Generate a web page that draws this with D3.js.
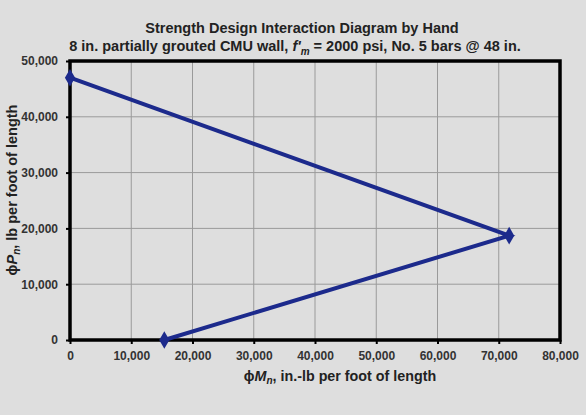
<!DOCTYPE html>
<html><head><meta charset="utf-8">
<script src="https://cdn.jsdelivr.net/npm/d3@7"></script>
<style>body{margin:0;background:#dedede;}svg{display:block;font-family:"Liberation Sans",Arial,sans-serif;}</style>
</head><body>
<svg id="c" width="586" height="415"></svg>
<script>
const momentValues = [0, 71700, 15400];
const axialValues = [47000, 18700, 0];
const xTicks = [0,10000,20000,30000,40000,50000,60000,70000,80000];
const yTicks = [0,10000,20000,30000,40000,50000];

const svg = d3.select("#c");
svg.append("rect").attr("width",586).attr("height",415).attr("fill","#dedede");
const L=70,R=560,T=61,B=340;
const x = d3.scaleLinear().domain([0,80000]).range([L,R]);
const y = d3.scaleLinear().domain([0,50000]).range([B,T]);
const fmt = d3.format(",");

const g = svg.append("g");
g.selectAll("line.gx").data(xTicks).join("line").attr("x1",d=>x(d)).attr("x2",d=>x(d)).attr("y1",T).attr("y2",B).attr("stroke","#9a9a9a").attr("stroke-width",1);
g.selectAll("line.gy").data(yTicks).join("line").attr("y1",d=>y(d)).attr("y2",d=>y(d)).attr("x1",L).attr("x2",R).attr("stroke","#9a9a9a").attr("stroke-width",1);

const xa = svg.append("g").attr("transform",`translate(0,${B})`).call(d3.axisBottom(x).tickValues(xTicks).tickFormat(fmt).tickSize(4).tickPadding(7));
const ya = svg.append("g").attr("transform",`translate(${L},0)`).call(d3.axisLeft(y).tickValues(yTicks).tickFormat(fmt).tickSize(4).tickPadding(8));
[xa,ya].forEach(a=>{a.select(".domain").remove();a.selectAll("line").attr("stroke","#000").attr("stroke-width",2);a.selectAll("text").attr("font-size",12).attr("font-weight","bold").attr("fill","#333").attr("font-family","Liberation Sans, Arial, sans-serif");});

svg.append("rect").attr("x",L).attr("y",T).attr("width",R-L).attr("height",B-T).attr("fill","none").attr("stroke","#000").attr("stroke-width",3.5);

const pts = momentValues.map((m,i)=>[m,axialValues[i]]);
svg.append("path").datum(pts).attr("d",d3.line().x(d=>x(d[0])).y(d=>y(d[1]))).attr("fill","none").attr("stroke","#1c2a8c").attr("stroke-width",4);
svg.selectAll("path.m").data(pts).join("path").attr("d",d3.symbol(d3.symbolDiamond,90)).attr("transform",d=>`translate(${x(d[0])},${y(d[1])})`).attr("fill","#1c2a8c");

const t = svg.append("text").attr("text-anchor","middle").attr("font-weight","bold").attr("font-size",14.5).attr("fill","#222");
t.append("tspan").attr("x",302).attr("y",33).text("Strength Design Interaction Diagram by Hand");
const t2 = svg.append("text").attr("text-anchor","middle").attr("font-weight","bold").attr("font-size",14.5).attr("fill","#222").attr("x",295).attr("y",51);
t2.append("tspan").text("8 in. partially grouted CMU wall, ");
t2.append("tspan").attr("font-style","italic").text("f'");
t2.append("tspan").attr("font-style","italic").attr("font-size",10).attr("dy",4).text("m");
t2.append("tspan").attr("dy",-4).text(" = 2000 psi, No. 5 bars @ 48 in.");

const xl = svg.append("text").attr("text-anchor","middle").attr("font-weight","bold").attr("font-size",14.3).attr("fill","#222").attr("x",340).attr("y",381);
xl.append("tspan").text("ϕ");
xl.append("tspan").attr("font-style","italic").text("M");
xl.append("tspan").attr("font-style","italic").attr("font-size",10).attr("dy",3).text("n");
xl.append("tspan").attr("dy",-3).text(", in.-lb per foot of length");

const yl = svg.append("text").attr("text-anchor","middle").attr("font-weight","bold").attr("font-size",14.5).attr("fill","#222").attr("transform","translate(17,190) rotate(-90)");
yl.append("tspan").text("ϕ");
yl.append("tspan").attr("font-style","italic").text("P");
yl.append("tspan").attr("font-style","italic").attr("font-size",10).attr("dy",3).text("n");
yl.append("tspan").attr("dy",-3).text(", lb per foot of length");
</script>
</body></html>
